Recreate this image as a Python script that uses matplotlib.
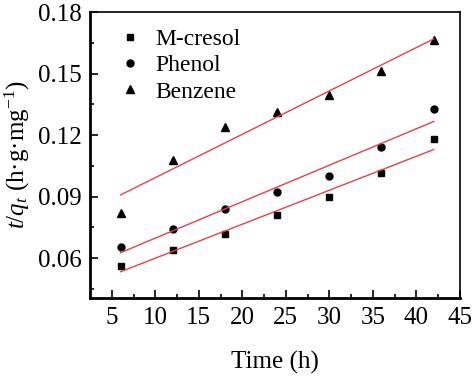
import numpy as np
import matplotlib
matplotlib.use('Agg')
import matplotlib.pyplot as plt
from matplotlib.ticker import MultipleLocator

plt.rcParams['font.family'] = 'Liberation Serif'
plt.rcParams['mathtext.fontset'] = 'custom'
plt.rcParams['mathtext.rm'] = 'Liberation Serif'
plt.rcParams['mathtext.it'] = 'Liberation Serif:italic'

# time points (h)
time = [6, 12, 18, 24, 30, 36, 42]

# t/qt values
mcresol = [0.0561, 0.0642, 0.0717, 0.0810, 0.0899, 0.1013, 0.1180]
phenol = [0.0654, 0.0740, 0.0839, 0.0923, 0.1000, 0.1141, 0.1328]
benzene = [0.0820, 0.1078, 0.1239, 0.1314, 0.1395, 0.1512, 0.1662]

names = ['M-cresol', 'Phenol', 'Benzene']
markers = ['s', 'o', '^']
msizes = [4.5, 5, 5.5]

fig = plt.figure(figsize=(4.74, 3.76), dpi=100)
ax = fig.add_axes([0.19, 0.207, 0.78, 0.761])

t = np.array(time)
for y, name, m, ms in zip([mcresol, phenol, benzene], names, markers, msizes):
    ax.plot(t, y, ls='none', marker=m, ms=ms, color='black', label=name)
    k, b = np.polyfit(t, y, 1)
    ax.plot(t[[0, -1]], k * t[[0, -1]] + b, color='#e8404a', lw=1)

ax.set_xlim(2.5, 45)
ax.set_ylim(0.0405, 0.18)
ax.xaxis.set_major_locator(MultipleLocator(5))
ax.xaxis.set_minor_locator(MultipleLocator(2.5))
ax.yaxis.set_major_locator(MultipleLocator(0.03))
ax.yaxis.set_minor_locator(MultipleLocator(0.015))
ax.tick_params(which='both', direction='in', labelsize=18, width=1.2, pad=6)
ax.tick_params(which='major', length=6)
ax.tick_params(which='minor', length=3)
ax.yaxis.set_major_formatter(matplotlib.ticker.FormatStrFormatter('%.2f'))
for s in ax.spines.values():
    s.set_linewidth(1.2)
ax.spines['left'].set_linewidth(2)
ax.spines['bottom'].set_linewidth(2)

ax.set_xlabel('Time (h)', fontsize=18, labelpad=16)
ax.set_ylabel(r'$t/q_t$ (h·g·mg$^{\mathregular{-1}}$)', fontsize=18, labelpad=4)

ax.legend(loc='upper left', frameon=False, fontsize=17, handlelength=1.0,
          handletextpad=0.6, borderaxespad=0.3, labelspacing=0.2,
          bbox_to_anchor=(0.031, 1.0))

fig.savefig('out.png', dpi=100)
